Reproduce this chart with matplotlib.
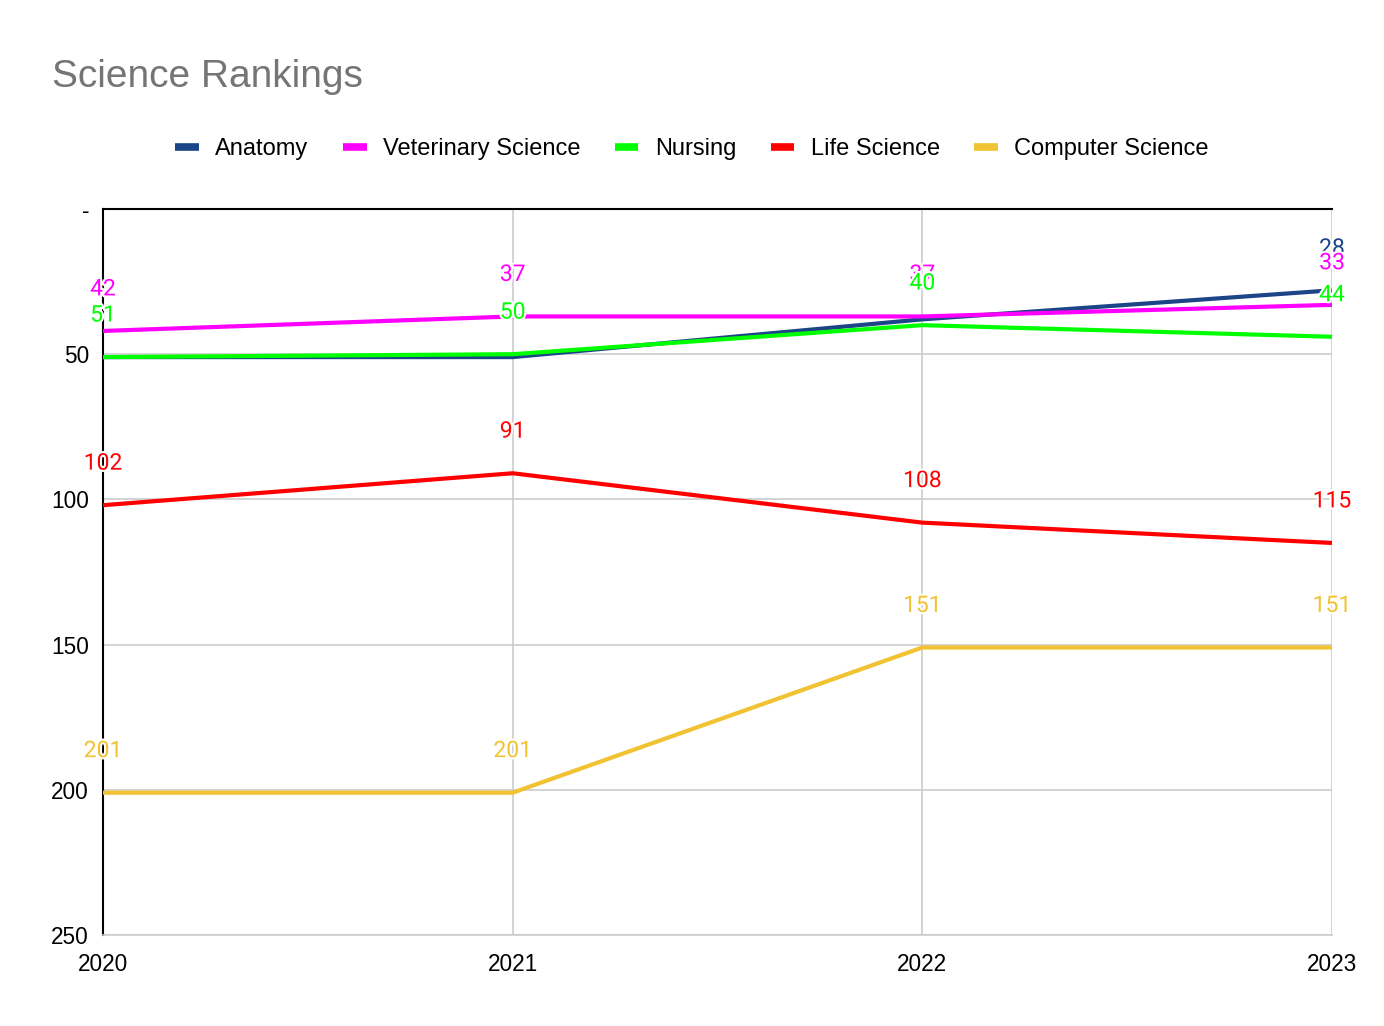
import matplotlib
matplotlib.use("Agg")
import matplotlib.pyplot as plt
import matplotlib.patheffects as pe
from matplotlib.lines import Line2D

plt.rcParams['font.family'] = ['Liberation Sans', 'DejaVu Sans']

years = [2020, 2021, 2022, 2023]
series_names = ["Anatomy", "Veterinary Science", "Nursing", "Life Science", "Computer Science"]
anatomy = [51, 51, 38, 28]
veterinary = [42, 37, 37, 33]
nursing = [51, 50, 40, 44]
life_science = [102, 91, 108, 115]
computer_science = [201, 201, 151, 151]
colors = ["#1c4587", "#ff00ff", "#00ff00", "#ff0000", "#f1c232"]
# which data labels are visible in the chart (others hidden by overlap)
show_labels = [
    [False, False, False, True],
    [True, True, True, True],
    [True, True, True, True],
    [True, True, True, True],
    [True, True, True, True],
]
y_ticks = [0, 50, 100, 150, 200, 250]
y_tick_labels = ["-", "50", "100", "150", "200", "250"]

all_series = [anatomy, veterinary, nursing, life_science, computer_science]

fig = plt.figure(figsize=(13.84, 10.26), dpi=100)
ax = fig.add_axes([0.0744, 0.0887, 0.888, 0.7076])

for vals, c in zip(all_series, colors):
    ax.plot(years, vals, color=c, lw=3, solid_capstyle='butt', zorder=3)

ax.set_xlim(2020, 2023)
ax.set_ylim(250, 0)
ax.set_yticks(y_ticks)
ax.set_yticklabels(y_tick_labels)
ax.set_xticks(years)
ax.set_xticklabels([str(y) for y in years])
ax.grid(True, color="#cccccc", lw=1.2, zorder=0)
ax.tick_params(length=0, labelsize=16.3, colors="#000000")
ax.tick_params(axis='y', pad=10)
ax.tick_params(axis='x', pad=13)
ax.spines["right"].set_visible(False)
ax.spines["bottom"].set_color("#cccccc")
ax.spines["bottom"].set_linewidth(1.2)
ax.spines["left"].set_color("#000000")
ax.spines["left"].set_linewidth(1.5)
ax.spines["top"].set_color("#000000")
ax.spines["top"].set_linewidth(1.5)

# data labels (draw in order so later series on top)
order = [0, 1, 4, 3, 2]
for i in order:
    vals = all_series[i]
    for j, (x, v) in enumerate(zip(years, vals)):
        if not show_labels[i][j]:
            continue
        ax.annotate(str(v), (x, v), xytext=(0, 22), textcoords="offset points",
                    ha="center", va="bottom", fontsize=16.5, color=colors[i],
                    family=['Roboto', 'DejaVu Sans'],
                    path_effects=[pe.withStroke(linewidth=3, foreground="white")],
                    zorder=5, annotation_clip=False)

fig.text(0.0376, 0.925, "Science Rankings", fontsize=28, color="#757575", ha="left", va="center")

handles = [Line2D([0], [0], color=c, lw=5.5, solid_capstyle='butt') for c in colors]
fig.legend(handles, series_names, loc="center", bbox_to_anchor=(0.5, 0.855), ncol=5,
           frameon=False, fontsize=17, handlelength=1.0, handletextpad=0.7,
           columnspacing=1.45)

fig.savefig("out.png", dpi=100)
